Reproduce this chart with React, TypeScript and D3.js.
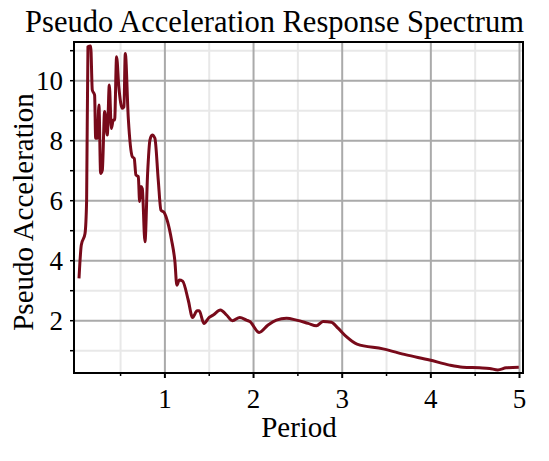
import * as React from 'react';
import * as d3 from 'd3';

// values
const periods = [
  0.031, 0.057, 0.099, 0.117, 0.132, 0.163, 0.181, 0.207, 0.219, 0.237,
  0.256, 0.275, 0.294, 0.32, 0.35, 0.373, 0.396, 0.418, 0.433, 0.455,
  0.48, 0.52, 0.538, 0.553, 0.587, 0.632, 0.654, 0.673, 0.7, 0.715,
  0.73, 0.745, 0.775, 0.805, 0.831, 0.857, 0.887, 0.925, 0.955, 0.993,
  1.03, 1.075, 1.113, 1.135, 1.162, 1.2, 1.263, 1.312, 1.364, 1.387,
  1.44, 1.5, 1.545, 1.627, 1.695, 1.762, 1.845, 1.92, 1.958, 2.063,
  2.164, 2.258, 2.371, 2.484, 2.615, 2.709, 2.784, 2.878, 2.953, 3.047,
  3.167, 3.46, 3.723, 3.986, 4.211, 4.361, 4.549, 4.662, 4.756, 4.85, 4.992,
];
const accel = [
  3.41, 4.52, 4.91, 6.02, 11.13, 11.16, 9.69, 9.52, 8.08, 8.08,
  9.19, 6.91, 7.02, 8.97, 8.19, 9.86, 8.41, 8.69, 8.69, 10.8,
  9.8, 9.08, 9.13, 10.91, 8.75, 7.47, 7.41, 6.86, 6.8, 5.97,
  6.47, 6.4, 4.63, 6.91, 8.02, 8.19, 8.08, 6.69, 5.69, 5.6,
  5.3, 4.69, 3.97, 3.18, 3.36, 3.32, 2.69, 2.11, 2.33, 2.33,
  1.91, 2.11, 2.19, 2.36, 2.19, 2.0, 2.11, 2.02, 1.97, 1.61,
  1.86, 2.02, 2.08, 2.02, 1.91, 1.83, 1.97, 1.95, 1.75, 1.47,
  1.22, 1.06, 0.86, 0.69, 0.52, 0.45, 0.43, 0.41, 0.36, 0.43, 0.45,
];

const xMajor = [1, 2, 3, 4, 5];
const xMinor = [0.5, 1.5, 2.5, 3.5, 4.5];
const yMajor = [2, 4, 6, 8, 10];
const yMinor = [1, 3, 5, 7, 9, 11];

const W = 549;
const H = 461;
const frame = { left: 74, right: 523, top: 42, bottom: 373 };
const font = '"Liberation Serif", "Times New Roman", serif';

export default function App() {
  const x = d3.scaleLinear().domain([0, 5]).range([76.25, 519.5]);
  const y = d3.scaleLinear().domain([0, 10]).range([380.7, 80.7]);

  const line = d3.line<number>()
    .x((_, i) => x(periods[i]))
    .y(d => y(d))
    .curve(d3.curveMonotoneX);

  return (
    <svg width={W} height={H} style={{ position: 'fixed', left: 0, top: 0, background: '#fff' }}>
      <rect width={W} height={H} fill="#fff" />
      <g>
        {xMinor.map(v => (
          <line key={'xm' + v} x1={x(v)} x2={x(v)} y1={frame.top} y2={frame.bottom} stroke="#e8e8e8" strokeWidth={2} />
        ))}
        {yMinor.map(v => (
          <line key={'ym' + v} x1={frame.left} x2={frame.right} y1={y(v)} y2={y(v)} stroke="#e8e8e8" strokeWidth={2} />
        ))}
        {xMajor.map(v => (
          <line key={'xM' + v} x1={x(v)} x2={x(v)} y1={frame.top} y2={frame.bottom} stroke="#aaaaaa" strokeWidth={2} />
        ))}
        {yMajor.map(v => (
          <line key={'yM' + v} x1={frame.left} x2={frame.right} y1={y(v)} y2={y(v)} stroke="#aaaaaa" strokeWidth={2} />
        ))}
      </g>
      <path d={line(accel) || ''} fill="none" stroke="#780a1a" strokeWidth={3} strokeLinejoin="round" />
      <rect x={frame.left} y={frame.top} width={frame.right - frame.left} height={frame.bottom - frame.top}
        fill="none" stroke="#000" strokeWidth={2} />
      {/* ticks */}
      {xMajor.map(v => (
        <line key={'xt' + v} x1={x(v)} x2={x(v)} y1={frame.bottom} y2={frame.bottom + 5} stroke="#000" strokeWidth={2} />
      ))}
      {xMinor.map(v => (
        <line key={'xtm' + v} x1={x(v)} x2={x(v)} y1={frame.bottom} y2={frame.bottom + 3} stroke="#000" strokeWidth={1.5} />
      ))}
      {yMajor.concat(yMinor).map(v => (
        <line key={'yt' + v} x1={frame.left - 4} x2={frame.left} y1={y(v)} y2={y(v)} stroke="#000" strokeWidth={1.5} />
      ))}
      {/* tick labels */}
      {xMajor.map(v => (
        <text key={'xl' + v} x={x(v)} y={408} textAnchor="middle" fontFamily={font} fontSize={27} fill="#000">{v}</text>
      ))}
      {yMajor.map(v => (
        <text key={'yl' + v} x={63} y={y(v) + 9.5} textAnchor="end" fontFamily={font} fontSize={27} fill="#000">{v}</text>
      ))}
      <text x={274.5} y={32} textAnchor="middle" fontFamily={font} fontSize={30.5} fill="#000">
        Pseudo Acceleration Response Spectrum
      </text>
      <text x={299} y={437} textAnchor="middle" fontFamily={font} fontSize={29} fill="#000">Period</text>
      <text transform={`translate(33, 212) rotate(-90)`} textAnchor="middle" fontFamily={font} fontSize={29} fill="#000">
        Pseudo Acceleration
      </text>
    </svg>
  );
}
